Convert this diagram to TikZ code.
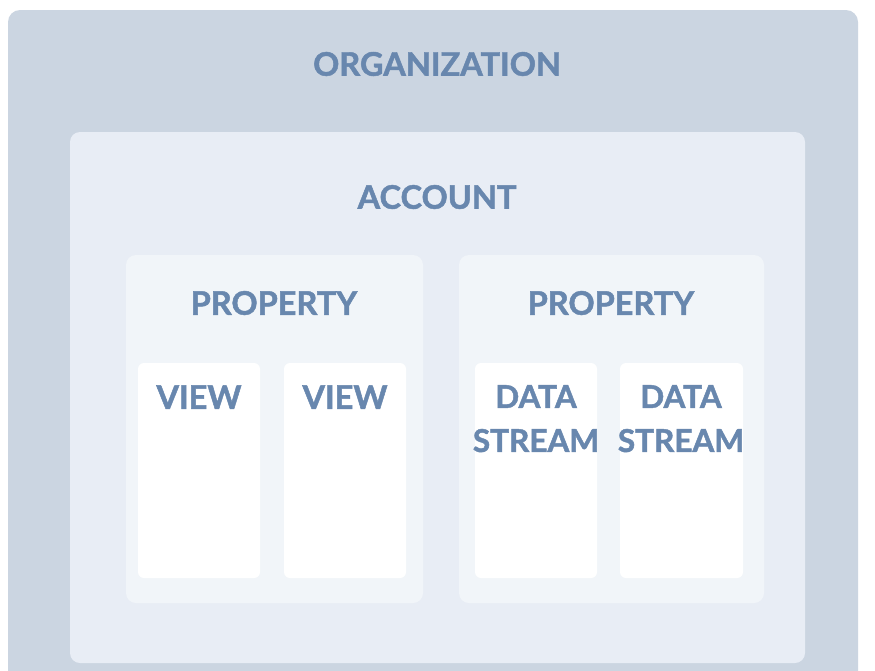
\documentclass[tikz,border=0pt]{standalone}
\usepackage{fontspec}
\setmainfont{Lato}[BoldFeatures={FakeBold=1.5}]
\definecolor{orgc}{HTML}{CBD5E1}
\definecolor{accc}{HTML}{E8EDF5}
\definecolor{propc}{HTML}{F1F5F9}
\definecolor{txtc}{HTML}{6887AE}
\begin{document}
\begin{tikzpicture}[x=1pt,y=-1pt,
  box/.style={rounded corners=#1},
  lbl/.style={text=txtc,font=\fontsize{32.5}{40}\selectfont\bfseries,align=center,inner sep=0pt},
  slbl/.style={text=txtc,font=\fontsize{31.5}{44}\selectfont\bfseries,align=center,inner sep=0pt}]
\useasboundingbox (0,0) rectangle (875,670);
\fill[white] (0,0) rectangle (875,670);
\fill[orgc,box=12pt] (8,10) rectangle (858,690);
\fill[accc,box=10pt] (70,132) rectangle (805,663);
\fill[propc,box=10pt] (126,255) rectangle (423,603);
\fill[propc,box=10pt] (459,255) rectangle (764,603);
\fill[white,box=6pt] (138,363) rectangle (260,578);
\fill[white,box=6pt] (284,363) rectangle (406,578);
\fill[white,box=6pt] (475,363) rectangle (597,578);
\fill[white,box=6pt] (620,363) rectangle (743,578);
\node[lbl] (org) at (437,64) {ORGANIZATION};
\node[lbl] (acc) at (437,197) {ACCOUNT};
\node[lbl] (p1) at (274,303) {PROPERTY};
\node[lbl] (p2) at (611,303) {PROPERTY};
\node[lbl] (v1) at (199,397) {VIEW};
\node[lbl] (v2) at (345,397) {VIEW};
\node[slbl,anchor=north] (d1) at (536,385) {DATA\\STREAM};
\node[slbl,anchor=north] (d2) at (681,385) {DATA\\STREAM};
\end{tikzpicture}
\end{document}
